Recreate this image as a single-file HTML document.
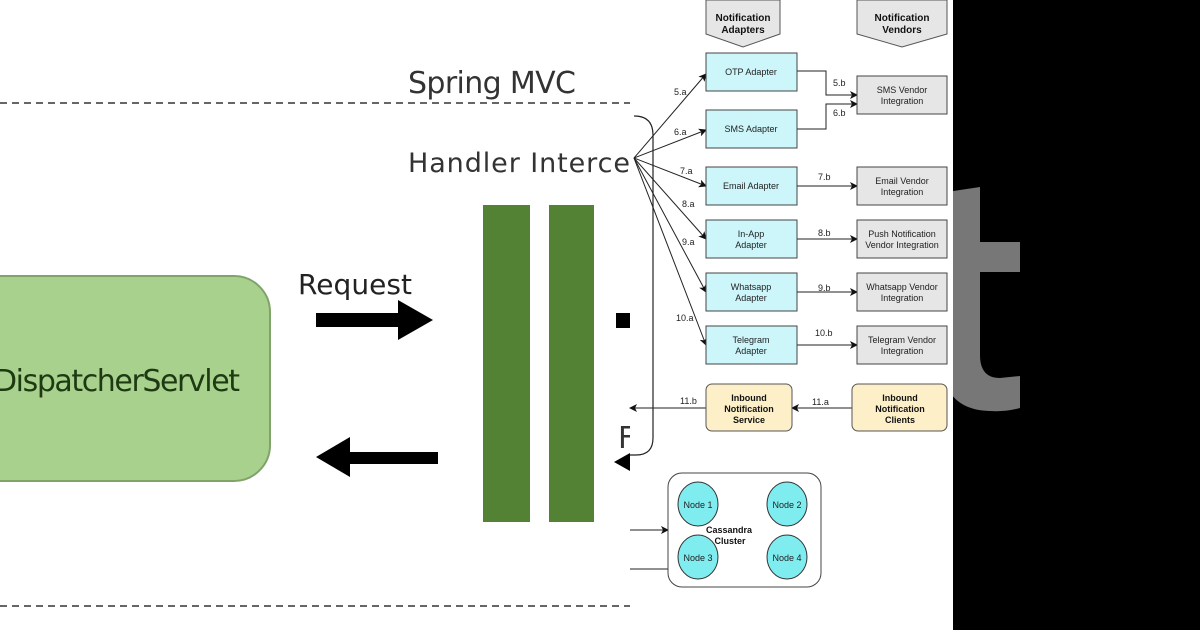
<!DOCTYPE html>
<html><head><meta charset="utf-8"><style>
html,body{margin:0;padding:0;background:#000;}
svg{display:block}
text{font-family:"Liberation Sans",sans-serif}
</style></head><body>
<svg width="1200" height="630" viewBox="0 0 1200 630" xmlns="http://www.w3.org/2000/svg">
<defs>
<marker id="a" markerWidth="8" markerHeight="8" refX="7" refY="4" orient="auto" markerUnits="userSpaceOnUse"><path d="M0,0 L8,4 L0,8 L2,4 z" fill="#111"/></marker>
</defs>
<rect x="0" y="0" width="1200" height="630" fill="#000"/>
<!-- big t -->
<path d="M940,193 L980,187 L980,242 L1020,242 L1020,272 L980,272 L980,355 Q980,378 1000,378 L1020,376 L1020,408 Q1005,412 990,411 Q945,410 942,365 Z" fill="#777"/>
<!-- left panel -->
<rect x="0" y="0" width="630" height="630" fill="#fff"/>
<text x="408" y="93" font-size="30" fill="#333" style="font-family:'DejaVu Sans',sans-serif" textLength="168">Spring MVC</text>
<line x1="0" y1="103" x2="630" y2="103" stroke="#666" stroke-width="2" stroke-dasharray="7,5"/>
<line x1="0" y1="606" x2="630" y2="606" stroke="#666" stroke-width="2" stroke-dasharray="7,5"/>
<text x="408" y="172" font-size="27" fill="#333" style="font-family:'DejaVu Sans',sans-serif" textLength="222">Handler Interce</text>
<rect x="-40" y="276" width="310" height="205" rx="36" fill="#a9d18e" stroke="#7fa36a" stroke-width="2"/>
<text x="-6" y="391" font-size="30" fill="#1e3a12" style="font-family:'DejaVu Sans',sans-serif" textLength="246">DispatcherServlet</text>
<text x="298" y="294" font-size="28" fill="#222" style="font-family:'DejaVu Sans',sans-serif" textLength="114">Request</text>
<path d="M316,313 L398,313 L398,300 L433,320 L398,340 L398,327 L316,327 Z" fill="#000"/>
<path d="M316,457 L350,437 L350,452 L438,452 L438,464 L350,464 L350,477 Z" fill="#000"/>
<rect x="483" y="205" width="47" height="317" fill="#548235"/>
<rect x="549" y="205" width="45" height="317" fill="#548235"/>
<rect x="616" y="313" width="14" height="15" fill="#000"/>
<text x="618" y="448" font-size="30" fill="#333" style="font-family:'DejaVu Sans',sans-serif">F</text>
<path d="M614,462 L630,453 L630,471 Z" fill="#000"/>
<!-- right panel -->
<rect x="630" y="0" width="323" height="630" fill="#fff"/>
<g stroke="#555" stroke-width="1" fill="#e6e6e6">
<path d="M706,0 L780,0 L780,34 L743,47 L706,34 Z"/>
<path d="M857,0 L947,0 L947,34 L902,47 L857,34 Z"/>
</g>
<g font-size="10" font-weight="bold" fill="#111" text-anchor="middle">
<text x="743" y="21">Notification</text><text x="743" y="33">Adapters</text>
<text x="902" y="21">Notification</text><text x="902" y="33">Vendors</text>
</g>
<!-- brace -->
<path d="M634,116 Q653,116 653,135 L653,438 Q653,455 636,455 L630,455" fill="none" stroke="#222" stroke-width="1.2"/>
<!-- fan arrows -->
<g stroke="#222" stroke-width="1" fill="none" marker-end="url(#a)">
<line x1="634" y1="158" x2="706" y2="74"/>
<line x1="634" y1="158" x2="706" y2="130"/>
<line x1="634" y1="158" x2="706" y2="186"/>
<line x1="634" y1="158" x2="706" y2="239"/>
<line x1="634" y1="158" x2="706" y2="292"/>
<line x1="634" y1="158" x2="706" y2="345"/>
<path d="M797,71 L826,71 L826,95 L857,95"/>
<path d="M797,129 L826,129 L826,104 L857,104"/>
<line x1="797" y1="186" x2="857" y2="186"/>
<line x1="797" y1="239" x2="857" y2="239"/>
<line x1="797" y1="292" x2="857" y2="292"/>
<line x1="797" y1="345" x2="857" y2="345"/>
<line x1="852" y1="408" x2="792" y2="408"/>
<line x1="706" y1="408" x2="630" y2="408"/>
<line x1="630" y1="530" x2="668" y2="530"/>
</g>
<line x1="630" y1="569" x2="668" y2="569" stroke="#222"/>
<g font-size="9" fill="#222">
<text x="674" y="95">5.a</text><text x="674" y="135">6.a</text><text x="680" y="174">7.a</text>
<text x="682" y="207">8.a</text><text x="682" y="245">9.a</text><text x="676" y="321">10.a</text>
<text x="833" y="86">5.b</text><text x="833" y="116">6.b</text><text x="818" y="180">7.b</text>
<text x="818" y="236">8.b</text><text x="818" y="291">9.b</text><text x="815" y="336">10.b</text>
<text x="812" y="405">11.a</text><text x="680" y="404">11.b</text>
</g>
<g stroke="#444" stroke-width="1" fill="#cdf6fb">
<rect x="706" y="53" width="91" height="38"/><rect x="706" y="110" width="91" height="38"/>
<rect x="706" y="167" width="91" height="38"/><rect x="706" y="220" width="91" height="38"/>
<rect x="706" y="273" width="91" height="38"/><rect x="706" y="326" width="91" height="38"/>
</g>
<g stroke="#444" stroke-width="1" fill="#e6e6e6">
<rect x="857" y="76" width="90" height="38"/><rect x="857" y="167" width="90" height="38"/>
<rect x="857" y="220" width="90" height="38"/><rect x="857" y="273" width="90" height="38"/>
<rect x="857" y="326" width="90" height="38"/>
</g>
<g stroke="#555" stroke-width="1" fill="#fdf0c8">
<rect x="706" y="384" width="86" height="47" rx="6"/><rect x="852" y="384" width="95" height="47" rx="6"/>
</g>
<g font-size="9" fill="#222" text-anchor="middle">
<text x="751" y="75">OTP Adapter</text><text x="751" y="132">SMS Adapter</text>
<text x="751" y="189">Email Adapter</text>
<text x="751" y="237">In-App</text><text x="751" y="248">Adapter</text>
<text x="751" y="290">Whatsapp</text><text x="751" y="301">Adapter</text>
<text x="751" y="343">Telegram</text><text x="751" y="354">Adapter</text>
<text x="902" y="93">SMS Vendor</text><text x="902" y="104">Integration</text>
<text x="902" y="184">Email Vendor</text><text x="902" y="195">Integration</text>
<text x="902" y="237">Push Notification</text><text x="902" y="248">Vendor Integration</text>
<text x="902" y="290">Whatsapp Vendor</text><text x="902" y="301">Integration</text>
<text x="902" y="343">Telegram Vendor</text><text x="902" y="354">Integration</text>
</g>
<g font-size="9" font-weight="bold" fill="#111" text-anchor="middle">
<text x="749" y="401">Inbound</text><text x="749" y="412">Notification</text><text x="749" y="423">Service</text>
<text x="900" y="401">Inbound</text><text x="900" y="412">Notification</text><text x="900" y="423">Clients</text>
</g>
<rect x="668" y="473" width="153" height="114" rx="14" fill="#fff" stroke="#444"/>
<g stroke="#333" fill="#7fecf0">
<ellipse cx="698" cy="504" rx="20" ry="22"/><ellipse cx="787" cy="504" rx="20" ry="22"/>
<ellipse cx="698" cy="557" rx="20" ry="22"/><ellipse cx="787" cy="557" rx="20" ry="22"/>
</g>
<g font-size="9" fill="#222" text-anchor="middle">
<text x="698" y="508">Node 1</text><text x="787" y="508">Node 2</text>
<text x="698" y="561">Node 3</text><text x="787" y="561">Node 4</text>
</g>
<g font-size="9" font-weight="bold" fill="#111" text-anchor="middle">
<text x="729" y="533">Cassandra</text><text x="730" y="544">Cluster</text>
</g>
</svg>
</body></html>
